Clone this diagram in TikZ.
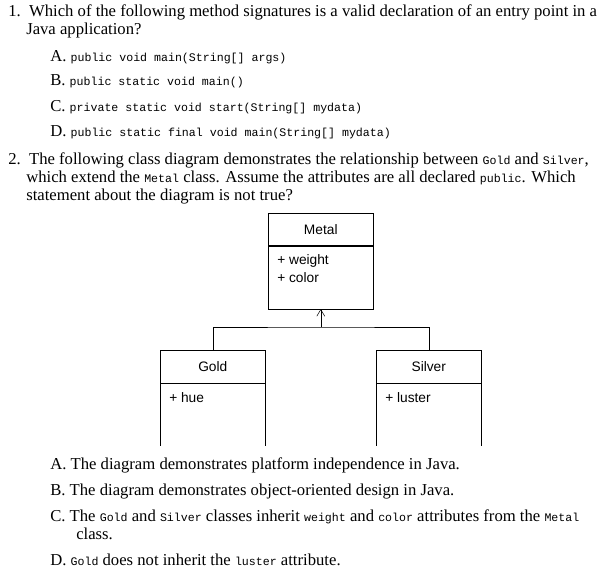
\documentclass[tikz,border=0pt]{standalone}
\usepackage{fontspec}
\setmainfont{Liberation Serif}
\setsansfont{Liberation Sans}
\setmonofont{Liberation Mono}
\usetikzlibrary{positioning,arrows.meta}
\newcommand{\mono}[1]{{\ttfamily\fontsize{8.7}{8.7}\selectfont #1}}
\tikzset{
  line/.style={inner sep=0pt, anchor=base west, font=\fontsize{12.5}{14}\selectfont},
  cls/.style={draw, minimum width=105*0.75pt, inner sep=0pt, font=\sffamily\fontsize{10.3}{12}\selectfont},
  attr/.style={anchor=north west, inner sep=0pt, align=left, font=\sffamily\fontsize{10.3}{14}\selectfont},
}
\begin{document}
\begin{tikzpicture}[x=0.75pt,y=-0.75pt]
  \useasboundingbox (0,0) rectangle (610,577);
  % Question 1
  \node[line] (q1a) at (8,17) {1.\ \ Which of the following method signatures is a valid declaration of an entry point in a};
  \node[line] (q1b) at (26,35) {Java application?};
  \node[line] (a1) at (50,62) {A.\ \mono{public void main(String[] args)}};
  \node[line] (b1) at (50,86) {B.\ \mono{public static void main()}};
  \node[line] (c1) at (50,112) {C.\ \mono{private static void start(String[] mydata)}};
  \node[line] (d1) at (50,137) {D.\ \mono{public static final void main(String[] mydata)}};
  % Question 2
  \node[line] (q2a) at (8,165) {2.\ \ The following class diagram demonstrates the relationship between \mono{Gold} and \mono{Silver},};
  \node[line] (q2b) at (26,183) {which extend the \mono{Metal} class. Assume the attributes are all declared \mono{public}. Which};
  \node[line] (q2c) at (26,201) {statement about the diagram is not true?};
  % Diagramm
  \node[cls, minimum height=32*0.75pt, anchor=north west] (metal) at (268,213) {Metal};
  \node[cls, minimum height=63*0.75pt, anchor=north] (metalattr) at (metal.south) {};
  \node[attr] (metaltxt) at (277,254) {+ weight\\+ color};
  \node[cls, minimum height=33*0.75pt, anchor=north west] (gold) at (160,350) {Gold};
  \node[cls, minimum height=33*0.75pt, anchor=north west] (silver) at (376,350) {Silver};
  \node[attr] (goldtxt) at (169,392) {+ hue};
  \node[attr] (silvertxt) at (385,392) {+ luster};
  \draw (gold.south west) -- ++(0,62);
  \draw (gold.south east) -- ++(0,62);
  \draw (silver.south west) -- ++(0,62);
  \draw (silver.south east) -- ++(0,62);
  \coordinate (join) at (metalattr.south |- 0,327);
  \draw (gold.north) |- (join) -| (silver.north);
  \draw[-{Straight Barb[length=5pt,width=6pt]}] (join) -- (metalattr.south);
  % Antworten
  \node[line] (a2) at (50,469) {A.\ The diagram demonstrates platform independence in Java.};
  \node[line] (b2) at (50,495) {B.\ The diagram demonstrates object-oriented design in Java.};
  \node[line] (c2) at (50,521) {C.\ The \mono{Gold} and \mono{Silver} classes inherit \mono{weight} and \mono{color} attributes from the \mono{Metal}};
  \node[line] (c2b) at (76,539) {class.};
  \node[line] (d2) at (50,565) {D.\ \mono{Gold} does not inherit the \mono{luster} attribute.};
\end{tikzpicture}
\end{document}
